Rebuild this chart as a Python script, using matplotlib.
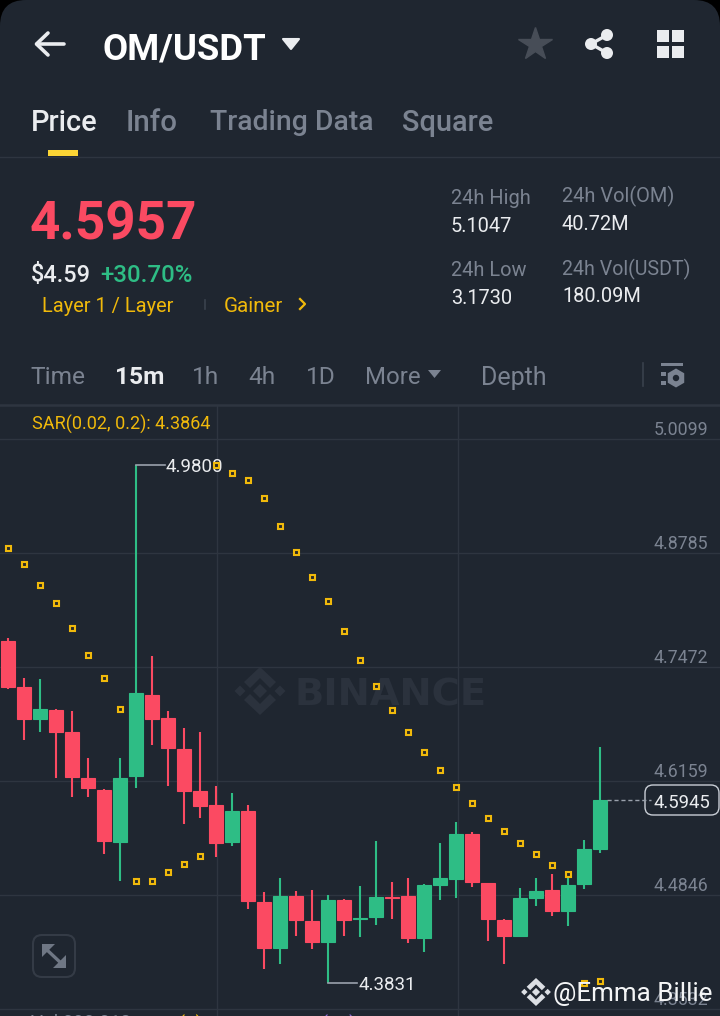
import numpy as np
import matplotlib
matplotlib.use('Agg')
import matplotlib.pyplot as plt
from matplotlib.patches import FancyBboxPatch, Polygon, Circle, Rectangle, RegularPolygon

plt.rcParams['font.family'] = ['Roboto', 'DejaVu Sans']

# candle data
opens = [4.7772, 4.7242, 4.6873, 4.6977, 4.6723, 4.6194, 4.6055, 4.5456, 4.6217, 4.7150,
         4.6885, 4.6528, 4.6044, 4.5883, 4.5456, 4.5813, 4.4765, 4.4235, 4.4834, 4.4546,
         4.4305, 4.4788, 4.4570, 4.4593, 4.4823, 4.4834, 4.4351, 4.4961, 4.5030, 4.5549,
         4.4984, 4.4558, 4.4374, 4.4811, 4.4904, 4.4662, 4.4973, 4.5376]
closes = [4.7242, 4.6873, 4.6988, 4.6723, 4.6205, 4.6078, 4.5468, 4.6194, 4.7173, 4.6873,
          4.6539, 4.6044, 4.5871, 4.5445, 4.5813, 4.4777, 4.4235, 4.4834, 4.4558, 4.4305,
          4.4788, 4.4558, 4.4581, 4.4823, 4.4811, 4.4351, 4.4961, 4.5042, 4.5549, 4.4996,
          4.4570, 4.4374, 4.4811, 4.4892, 4.4662, 4.4961, 4.5376, 4.5945]
highs = [4.7806, 4.7345, 4.7334, 4.6988, 4.6965, 4.6424, 4.6067, 4.6424, 4.9800, 4.7599,
         4.6965, 4.6769, 4.6723, 4.6101, 4.6021, 4.5883, 4.4881, 4.5042, 4.4892, 4.4904,
         4.4846, 4.4800, 4.4950, 4.5468, 4.4996, 4.5042, 4.4973, 4.5445, 4.5687, 4.5572,
         4.4984, 4.4570, 4.4927, 4.5042, 4.5088, 4.5076, 4.5479, 4.6551]
lows = [4.7219, 4.6631, 4.6723, 4.6194, 4.5975, 4.5975, 4.5318, 4.5007, 4.6078, 4.6574,
        4.6101, 4.5664, 4.5733, 4.5284, 4.5410, 4.4685, 4.3994, 4.4051, 4.4374, 4.4224,
        4.3831, 4.4374, 4.4362, 4.4500, 4.4570, 4.4293, 4.4189, 4.4788, 4.4811, 4.4938,
        4.4316, 4.4051, 4.4362, 4.4719, 4.4604, 4.4489, 4.4915, 4.5330]
sar = [4.8843, 4.8658, 4.8417, 4.8209, 4.7921, 4.7610, 4.7345, 4.6988, 4.5007, 4.5007,
       4.5111, 4.5203, 4.5295, 4.9800, 4.9707, 4.9626, 4.9419, 4.9096, 4.8797, 4.8509,
       4.8232, 4.7887, 4.7553, 4.7253, 4.6977, 4.6723, 4.6493, 4.6286, 4.6090, 4.5906,
       4.5733, 4.5583, 4.5445, 4.5318, 4.5191, 4.5088, 4.3832, 4.3855]
price_ticks = [5.0099, 4.8785, 4.7472, 4.6159, 4.4846, 4.3532]
last_price = 4.5945

BG = '#1f2630'
LINE = '#2e3540'
GRAY = '#7b8391'
WHITE = '#eaecef'
RED = '#fb4a62'
GREEN = '#2ebd85'
YELLOW = '#f0b90b'

fig = plt.figure(figsize=(7.2, 10.16), dpi=100, facecolor='black')


def pixel_axes(z):
    a = fig.add_axes([0, 0, 1, 1], zorder=z)
    a.set_xlim(0, 720)
    a.set_ylim(1016, 0)
    a.axis('off')
    return a


ui = pixel_axes(0)
top = pixel_axes(3)


def label(a, x, y, s, px, color, weight='normal', ha='left'):
    a.text(x, y, s, fontsize=px * 0.72, color=color, fontweight=weight, ha=ha, va='center_baseline')


def binance_logo(a, cx, cy, r, color, z=1):
    # r is half the height of the mark
    k = r / 24.0
    for dx in (-20, 0, 20):
        rad = 7 if dx == 0 else 5.5
        pts = [(dx, -rad), (dx + rad, 0), (dx, rad), (dx - rad, 0)]
        a.add_patch(Polygon([(cx + p * k, cy + q * k) for p, q in pts], fc=color, ec='none', zorder=z))
    for s in (-1, 1):
        pts = [(0, 24), (16, 9), (10, 3), (0, 13), (-10, 3), (-16, 9)]
        a.add_patch(Polygon([(cx + p * k, cy + s * q * k) for p, q in pts], fc=color, ec='none', zorder=z))


# background with rounded top corners
ui.add_patch(FancyBboxPatch((0, 0), 720, 1100, boxstyle='round,pad=0,rounding_size=26', fc=BG, ec='none'))

# header
ui.plot([37, 64], [44, 44], color=WHITE, lw=2.6, solid_capstyle='round')
ui.plot([48, 36.5, 48], [33, 44, 55], color=WHITE, lw=2.6, solid_capstyle='round', solid_joinstyle='round')
label(ui, 103, 45, 'OM/USDT', 36.5, '#ffffff', 'bold')
ui.add_patch(Polygon([(283, 39), (299, 39), (291, 49)], fc=WHITE, ec=WHITE, lw=1.5, joinstyle='round'))
ui.plot([535], [44], marker='*', ms=25, color='#474d57', mec='#474d57')
ui.plot([607, 591, 607], [35, 44, 53], color=WHITE, lw=2.4)
for cx, cy in [(607, 35), (591, 44), (607, 53)]:
    ui.add_patch(Circle((cx, cy), 6, fc=WHITE, ec='none'))
for x0 in (657, 672):
    for y0 in (30, 46):
        ui.add_patch(Rectangle((x0, y0), 12, 12, fc=WHITE, ec='none'))

# tabs
label(ui, 31, 120, 'Price', 29, WHITE, 'medium')
label(ui, 126, 120, 'Info', 29.5, GRAY, 'medium')
label(ui, 210, 120, 'Trading Data', 28.4, GRAY, 'medium')
label(ui, 402, 120, 'Square', 29, GRAY, 'medium')
ui.add_patch(Rectangle((48, 150), 30, 6, fc='#fcd535', ec='none'))
ui.plot([0, 720], [156.5, 156.5], color=LINE, lw=1)

# price block
label(ui, 30, 219, '4.5957', 53, RED, 'bold')
label(ui, 31, 273, '$4.59', 23.5, WHITE, 'medium')
label(ui, 100, 273, '+30.70%', 24, GREEN, 'medium')
label(ui, 42, 304, 'Layer 1 / Layer', 20, YELLOW)
ui.plot([204.5, 204.5], [300, 309], color='#3a424e', lw=1.2)
label(ui, 224, 304, 'Gainer', 20.5, YELLOW)
ui.plot([300, 305, 300], [299, 304, 309], color=YELLOW, lw=1.6)
label(ui, 451, 197, '24h High', 20, GRAY)
label(ui, 451, 225, '5.1047', 20, WHITE)
label(ui, 451, 269, '24h Low', 20, GRAY)
label(ui, 451, 297, '3.1730', 20, WHITE)
label(ui, 562, 194, '24h Vol(OM)', 20, GRAY)
label(ui, 562, 223, '40.72M', 20, WHITE)
label(ui, 562, 267, '24h Vol(USDT)', 19.6, GRAY)
label(ui, 562, 295, '180.09M', 20, WHITE)

# interval row
label(ui, 30, 375, 'Time', 24.5, GRAY)
label(ui, 115, 375, '15m', 24.5, WHITE, 'bold')
label(ui, 192, 375, '1h', 24.5, GRAY)
label(ui, 248, 375, '4h', 24.5, GRAY)
label(ui, 306, 375, '1D', 24.5, GRAY)
label(ui, 365, 375, 'More', 24, GRAY)
ui.add_patch(Polygon([(428, 370), (441, 370), (434.5, 378)], fc=GRAY, ec='none'))
label(ui, 481, 375, 'Depth', 25, GRAY)
ui.plot([642.5, 642.5], [363, 386], color='#39414c', lw=1.2)
ui.add_patch(Rectangle((661, 363), 22, 3, fc=GRAY, ec='none'))
ui.add_patch(Rectangle((661, 372), 5, 3.5, fc=GRAY, ec='none'))
ui.add_patch(Rectangle((661, 381), 5, 3.5, fc=GRAY, ec='none'))
ui.add_patch(RegularPolygon((676, 378), 6, radius=9.5, fc=GRAY, ec='none'))
ui.add_patch(Circle((676, 378), 3.2, fc=BG, ec='none'))

# chart frame lines
ui.plot([0, 720], [405, 405], color=LINE, lw=1.8)
ui.plot([216.5, 216.5], [406, 1016], color=LINE, lw=1)
ui.plot([457.5, 457.5], [406, 1016], color=LINE, lw=1)
binance_logo(ui, 260, 691, 24, '#2b323d')
ui.text(295, 691, 'BINANCE', fontsize=27.7, fontweight='bold', family='DejaVu Sans', color='#2b323d', va='center_baseline')
label(ui, 32, 422, 'SAR(0.02, 0.2): 4.3864', 18, YELLOW)

# expand icon
ui.add_patch(FancyBboxPatch((33, 935), 42, 42, boxstyle='round,pad=0,rounding_size=9', fc='none', ec='#343b46', lw=1.5))
ui.plot([46, 62], [949, 964], color='#6f7784', lw=2.4)
ui.add_patch(Polygon([(42, 944), (55, 944), (42, 957)], fc='#6f7784', ec='none'))
ui.add_patch(Polygon([(66, 968), (53, 968), (66, 955)], fc='#6f7784', ec='none'))

# candles on real price scale: 16 px per bar, 0.0011518 per px
ax = fig.add_axes([0, 0, 1, 610 / 1016], zorder=1)
ax.patch.set_alpha(0)
ax.set_xlim(-0.5, 44.5)
ax.set_ylim(4.3452, 5.0478)
ax.axis('off')

x = np.arange(len(opens))
o = np.array(opens)
c = np.array(closes)
colors = [GREEN if b >= a else RED for a, b in zip(opens, closes)]

for p in price_ticks:
    ax.annotate(f'{p:.4f}', xy=(1, p), xycoords=('axes fraction', 'data'), xytext=(-12, 0),
                textcoords='offset pixels', ha='right', va='bottom', fontsize=12.8, color=GRAY)
    ax.axhline(p, color=LINE, lw=1, zorder=1)

ax.vlines(x, lows, highs, colors=colors, lw=1.5, zorder=2)
ax.bar(x, np.abs(c - o), bottom=np.minimum(o, c), width=0.82, color=colors, edgecolor=colors, lw=0.8, zorder=3)
ax.plot(x, sar, ls='none', marker='s', ms=3.6, mew=1.5, mec=YELLOW, mfc='#2a2a26', zorder=4)

# high / low markers
hi = int(np.argmax(highs))
lo = int(np.argmin(lows))
ax.plot([hi, hi + 1.8], [highs[hi], highs[hi]], color='#9aa1ac', lw=1.2, zorder=3)
ax.text(hi + 1.87, highs[hi], f'{highs[hi]:.4f}', color=WHITE, fontsize=13.5, va='center_baseline', zorder=3)
ax.plot([lo, lo + 1.8], [lows[lo], lows[lo]], color='#9aa1ac', lw=1.2, zorder=3)
ax.text(lo + 1.9, lows[lo], f'{lows[lo]:.4f}', color=WHITE, fontsize=13.5, va='center_baseline', zorder=3)

# last price tag
ax.plot([x[-1] + 0.45, 40.2], [last_price, last_price], color='#9aa1ac', lw=1, ls=(0, (3, 2)), zorder=3)
ui.add_patch(FancyBboxPatch((645, 785), 74, 30, boxstyle='round,pad=0,rounding_size=8', fc=BG, ec='#c9ced6', lw=1))
label(ui, 682, 801, f'{last_price:.4f}', 18.5, WHITE, ha='center')

# cropped indicator row at the bottom
ui.text(31, 1014.5, 'Vol 090.012', fontsize=13.5, color=GRAY, va='top')
ui.text(150, 1014.5, 'MA(5) 094.875', fontsize=13.5, color=YELLOW, va='top')
ui.text(293, 1014.5, 'MA(10) 088.233', fontsize=13.5, color='#8e6bd8', va='top')

# share watermark on top of everything
binance_logo(top, 536, 992, 14, '#dcdfe4', z=5)
label(top, 553, 992, '@Emma Billie', 26, '#f4f5f6')

fig.savefig('out.png', dpi=100, facecolor='black')
